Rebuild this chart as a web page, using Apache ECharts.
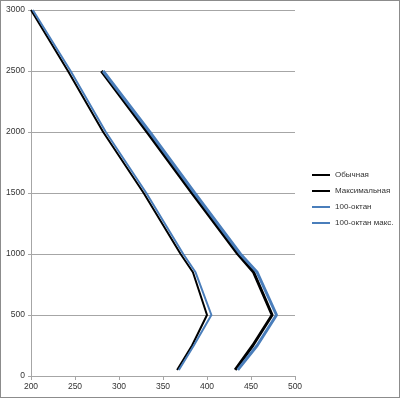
<!DOCTYPE html>
<html>
<head>
<meta charset="utf-8">
<script src="https://cdn.jsdelivr.net/npm/echarts@6/dist/echarts.min.js"></script>
<style>
  html, body { margin: 0; padding: 0; background: #fff; }
  #chart { width: 398px; height: 396px; border: 1px solid #8c8c8c; }
</style>
</head>
<body>
<div id="chart"></div>
<script>
// высоты (м) и скорости (км/ч)
var altNormal = [50, 250, 500, 850, 1000, 1500, 2000, 2500, 3000];
var altMax = [50, 250, 500, 850, 1000, 1500, 2000, 2500];

var normal = [366, 383, 400, 384, 370, 328, 282, 242, 200];
var maxPower = [432, 452, 474, 453, 435, 383, 332, 280];
var oct100 = [368, 385, 405, 387, 373, 331, 285, 245, 202];
var oct100Max = [435, 457, 479, 457, 438, 386, 335, 282];

var seriesNames = ['Обычная', 'Максимальная', '100-октан', '100-октан макс.'];

function pairs(xs, ys) {
    return xs.map(function (x, i) { return [x, ys[i]]; });
}

var textColor = '#333';
var gridColor = '#a6a6a6';

var myChart = echarts.init(document.getElementById('chart'));
myChart.setOption({
    animation: false,
    textStyle: { fontFamily: 'Liberation Sans' },
    grid: {
        left: 30,
        right: 104,
        top: 9,
        bottom: 21
    },
    legend: {
        orient: 'vertical',
        left: 310,
        top: 170,
        padding: 0,
        itemWidth: 18,
        itemHeight: 10,
        itemGap: 8,
        itemStyle: { opacity: 0 },
        textStyle: { color: textColor, fontSize: 8 },
        data: seriesNames
    },
    xAxis: {
        type: 'value',
        min: 200,
        max: 500,
        interval: 50,
        axisLine: { lineStyle: { color: gridColor } },
        axisTick: { show: true, length: 4, lineStyle: { color: gridColor } },
        axisLabel: { color: textColor, fontSize: 8.5, margin: 6 },
        splitLine: { show: false }
    },
    yAxis: {
        type: 'value',
        min: 0,
        max: 3000,
        interval: 500,
        axisLine: { show: true, lineStyle: { color: gridColor } },
        axisTick: { show: true, length: 3, lineStyle: { color: gridColor } },
        axisLabel: {
            color: textColor,
            fontSize: 8.5,
            margin: 6,
            formatter: function (v) { return String(v); }
        },
        splitLine: { show: true, lineStyle: { color: gridColor } }
    },
    series: [{
        name: seriesNames[0],
        type: 'line',
        symbol: 'none',
        lineStyle: { color: '#000', width: 2 },
        itemStyle: { color: '#000' },
        data: pairs(normal, altNormal)
    }, {
        name: seriesNames[1],
        type: 'line',
        symbol: 'none',
        lineStyle: { color: '#000', width: 3 },
        itemStyle: { color: '#000' },
        data: pairs(maxPower, altMax)
    }, {
        name: seriesNames[2],
        type: 'line',
        symbol: 'none',
        lineStyle: { color: '#4a7ebb', width: 2 },
        itemStyle: { color: '#4a7ebb' },
        data: pairs(oct100, altNormal)
    }, {
        name: seriesNames[3],
        type: 'line',
        symbol: 'none',
        lineStyle: { color: '#4a7ebb', width: 3 },
        itemStyle: { color: '#4a7ebb' },
        data: pairs(oct100Max, altMax)
    }]
});
</script>
</body>
</html>
